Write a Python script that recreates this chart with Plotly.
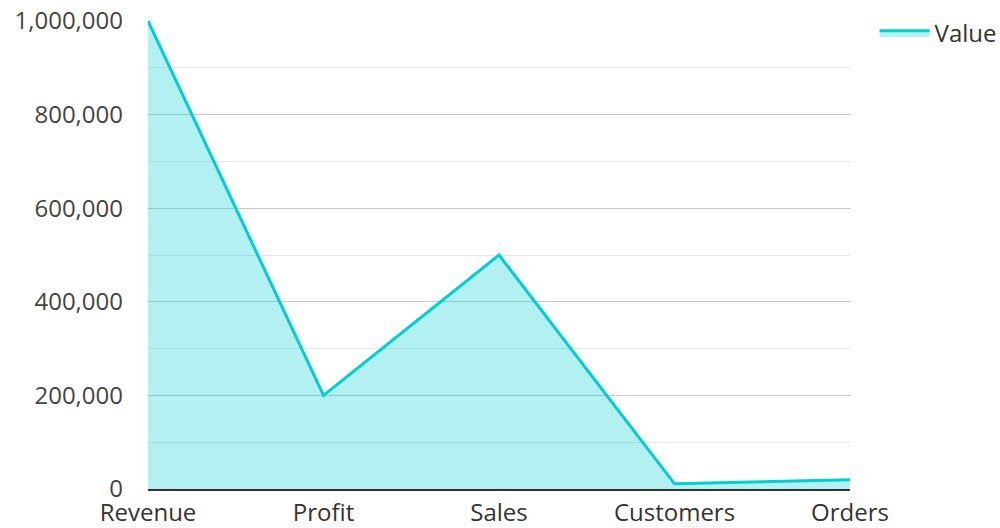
import plotly.graph_objects as go

categories = ["Revenue", "Profit", "Sales", "Customers", "Orders"]
values = [1000000, 200000, 500000, 11000, 20000]
y_ticks = [0, 200000, 400000, 600000, 800000, 1000000]
y_tick_labels = ["0", "200,000", "400,000", "600,000", "800,000", "1,000,000"]

fig = go.Figure()
fig.add_trace(go.Scatter(
    x=categories, y=values, name="Value", mode="lines",
    line=dict(color="#00CED1", width=3),
    fill="tozeroy", fillcolor="rgba(0,206,209,0.3)",
    showlegend=True,
))

fig.update_layout(
    width=1000, height=528,
    margin=dict(l=148, r=150, t=21, b=39, autoexpand=False),
    paper_bgcolor="white", plot_bgcolor="white",
    font=dict(family="Open Sans", size=24, color="#444"),
    legend=dict(x=1.035, y=1.022, xanchor="left", yanchor="top", itemwidth=50,
                font=dict(size=24, color="#333"), bgcolor="rgba(0,0,0,0)"),
    xaxis=dict(
        type="category", range=[0, 4], showgrid=False, automargin=False,
        showline=True, linecolor="#333", linewidth=2,
        ticks="", ticklabelstandoff=1, tickfont=dict(size=24, color="#333"),
        zeroline=False,
    ),
    yaxis=dict(
        range=[0, 1000000], tickvals=y_ticks, ticktext=y_tick_labels, automargin=False,
        showgrid=True, gridcolor="#c8c8c8", gridwidth=1,
        minor=dict(dtick=100000, showgrid=True, gridcolor="#e8e8e8", gridwidth=1),
        zeroline=False, showline=False, ticks="",
        ticklabelstandoff=24, tickfont=dict(size=24, color="#444"),
    ),
)

fig.write_html("out.html", config={"displayModeBar": False},
               post_script="document.body.style.margin='0';")
